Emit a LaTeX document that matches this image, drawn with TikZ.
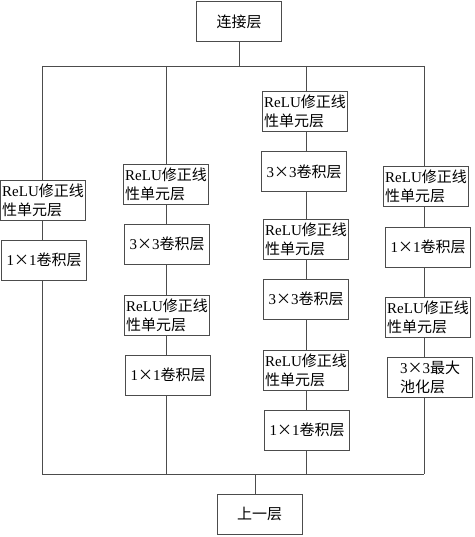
\documentclass[tikz,border=0pt]{standalone}
\usepackage{fontspec}
\setmainfont{Liberation Serif}
\newfontfamily\cj{Noto Sans CJK SC}
\usetikzlibrary{positioning}

\newcommand{\relutext}{ReLU{\cj 修正线}\\{\cj 性单元层}}

\begin{document}
\begin{tikzpicture}[
    x=1pt, y=-1pt,
    font=\fontsize{15}{19}\selectfont,
    link/.style={draw=black!70, line width=0.8pt},
    layer/.style={draw=black!70, line width=0.8pt, fill=white, minimum width=85pt, minimum height=40pt, align=center, inner sep=2pt},
    relu/.style={layer, align=left},
]
\useasboundingbox (0,0) rectangle (474,537);

% Top and bottom layers
\node[layer] (concat) at (239,21.5) {\cj 连接层};
\node[layer] (prev) at (259.5,514) {\cj 上一层};

% Branch 1
\node[relu] (r11) at (43,200) {\relutext};
\node[layer] (c11) at (44,260) {1{\cj ×}1{\cj 卷积层}};

% Branch 2
\node[relu] (r21) at (166,184.5) {\relutext};
\node[layer] (c21) at (167,244) {3{\cj ×}3{\cj 卷积层}};
\node[relu] (r22) at (167,315) {\relutext};
\node[layer] (c22) at (168,375) {1{\cj ×}1{\cj 卷积层}};

% Branch 3
\node[relu] (r31) at (305,111) {\relutext};
\node[layer] (c31) at (304,171.5) {3{\cj ×}3{\cj 卷积层}};
\node[relu] (r32) at (306,239) {\relutext};
\node[layer] (c32) at (306,299) {3{\cj ×}3{\cj 卷积层}};
\node[relu] (r33) at (306,370) {\relutext};
\node[layer] (c33) at (307,430) {1{\cj ×}1{\cj 卷积层}};

% Branch 4
\node[relu] (r41) at (426,186.5) {\relutext};
\node[layer] (c41) at (428,247) {1{\cj ×}1{\cj 卷积层}};
\node[relu] (r42) at (428,317) {\relutext};
\node[relu] (p41) at (430,377) {3{\cj ×}3{\cj 最大}\\{\cj 池化层}};

% Bus points
\coordinate (tb) at (239,66);
\coordinate (bb) at (255,474);
\coordinate (t1) at (42,66);  \coordinate (b1) at (42,474);
\coordinate (t2) at (166,66); \coordinate (b2) at (166,474);
\coordinate (t3) at (306,66); \coordinate (b3) at (306,474);
\coordinate (t4) at (424,66); \coordinate (b4) at (424,474);

\begin{scope}[link]
\draw (concat) -- (tb);
\draw (t1) -- (t4);
\draw (b1) -- (b4);
\draw (bb) -- (bb |- prev.north);

% Branch connectors
\draw (t1) -- (t1 |- r11.north);
\draw (t1 |- r11.south) -- (t1 |- c11.north);
\draw (t1 |- c11.south) -- (b1);

\draw (t2) -- (t2 |- r21.north);
\draw (t2 |- r21.south) -- (t2 |- c21.north);
\draw (t2 |- c21.south) -- (t2 |- r22.north);
\draw (t2 |- r22.south) -- (t2 |- c22.north);
\draw (t2 |- c22.south) -- (b2);

\draw (t3) -- (t3 |- r31.north);
\draw (t3 |- r31.south) -- (t3 |- c31.north);
\draw (t3 |- c31.south) -- (t3 |- r32.north);
\draw (t3 |- r32.south) -- (t3 |- c32.north);
\draw (t3 |- c32.south) -- (t3 |- r33.north);
\draw (t3 |- r33.south) -- (t3 |- c33.north);
\draw (t3 |- c33.south) -- (b3);

\draw (t4) -- (t4 |- r41.north);
\draw (t4 |- r41.south) -- (t4 |- c41.north);
\draw (t4 |- c41.south) -- (t4 |- r42.north);
\draw (t4 |- r42.south) -- (t4 |- p41.north);
\draw (t4 |- p41.south) -- (b4);
\end{scope}
\end{tikzpicture}
\end{document}
